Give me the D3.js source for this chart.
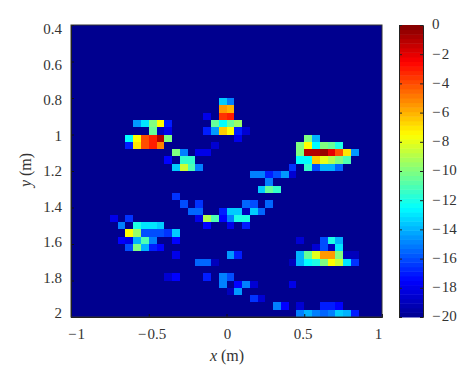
<!DOCTYPE html>
<html>
<head>
<meta charset="utf-8">
<script src="https://cdn.jsdelivr.net/npm/d3@7"></script>
<style>
  html, body { margin: 0; padding: 0; background: #fff; }
  svg { display: block; }
  text { font-family: "Liberation Serif", serif; fill: #333; }
</style>
</head>
<body>
<div id="chart"></div>
<script>
// grid size and ticks as printed
const nCols = 40;
const nRows = 40;
const floorValue = -20;
const xTicks = [-1, -0.5, 0, 0.5, 1];
const yTicks = [0.4, 0.6, 0.8, 1, 1.2, 1.4, 1.6, 1.8, 2];
const colorTicks = [0, -2, -4, -6, -8, -10, -12, -14, -16, -18, -20];

// non-floor cells: [col, row, dB]
const upperLeftBlob = [
  [17,12,-18],
  [8,13,-14.5],[9,13,-13],[10,13,-10],[11,13,-7.5],[12,13,-17],
  [10,14,-10.5],[11,14,-19],[12,14,-18],
  [7,15,-12.5],[8,15,-7.5],[9,15,-4],[10,15,-3],[11,15,-1],[12,15,-10],
  [7,16,-17],[8,16,-7],[9,16,-4],[10,16,-3],[11,16,-5],
  [13,17,-10],[14,17,-15],[16,17,-18],[17,17,-18],
  [12,18,-17.5],[14,18,-11.5],[15,18,-11.5],
  [13,19,-13.5],[14,19,-8.5],[15,19,-11],[16,19,-15]
];
const upperMiddleBlob = [
  [19,10,-13.5],[20,10,-15],
  [19,11,-5.5],[20,11,-6],
  [19,12,-3.5],[20,12,-3],
  [18,13,-10.5],[19,13,-12.5],[20,13,-10.5],[21,13,-9.5],
  [17,14,-17],[18,14,-14.5],[19,14,-6.5],[20,14,-7.5],[21,14,-17],[22,14,-18.5],
  [21,15,-18],[18,16,-18.5]
];
const upperRightBlob = [
  [30,15,-10],[31,15,-14],
  [29,16,-10],[30,16,-7.5],[31,16,-12.5],[32,16,-10],[33,16,-10.5],[34,16,-12],
  [29,17,-10],[30,17,-1],[31,17,-1],[32,17,-0.5],[33,17,-2],[34,17,-4],[35,17,-7],[36,17,-14.5],
  [29,18,-12.5],[30,18,-12.5],[31,18,-6.5],[32,18,-8],[33,18,-9],[34,18,-10],[35,18,-11],
  [28,19,-16.5],[30,19,-11.5],[31,19,-16],[32,19,-14],[33,19,-14],[34,19,-15.5]
];
const centerTrail = [
  [23,20,-15],[24,20,-15],[25,20,-17],[26,20,-16],[27,20,-14.5],[28,20,-18.5],
  [25,21,-15],
  [24,22,-13.5],[25,22,-10.5],[26,22,-11.5],
  [13,23,-16.5],
  [14,24,-16],[16,24,-16.5],[22,24,-15.5],[23,24,-16],[25,24,-15.5],
  [15,25,-15.5],[16,25,-15.5],[19,25,-17],[20,25,-13.5],[21,25,-13.5],[22,25,-19],[23,25,-13.5],[24,25,-15.5],
  [16,26,-18],[17,26,-9],[18,26,-11],[19,26,-17.5],[20,26,-15],[21,26,-12],[22,26,-12],
  [17,27,-17.5],[20,27,-18],[22,27,-17]
];
const lowerLeftBlob = [
  [5,26,-18],[7,26,-16.5],
  [6,27,-15],[8,27,-12],[9,27,-13],[10,27,-13],[11,27,-13.5],
  [7,28,-7.5],[8,28,-9.5],[9,28,-16],[10,28,-16],[11,28,-16],[12,28,-16.5],[13,28,-13.5],
  [6,29,-17.5],[7,29,-18],[8,29,-14],[9,29,-11],[10,29,-15],[13,29,-17.5],
  [7,30,-16],[8,30,-10],[9,30,-14],[10,30,-17],[11,30,-17.5],
  [13,31,-18]
];
const lowerRightBlob = [
  [29,29,-18.5],[32,29,-16],[33,29,-12],[34,29,-14],
  [31,30,-18.5],[32,30,-16],[33,30,-19],[34,30,-13],
  [20,31,-14.5],[21,31,-17],[29,31,-14],[30,31,-10.5],[31,31,-8],[32,31,-5.5],[33,31,-5.5],[34,31,-10],[35,31,-19],[36,31,-19],
  [28,32,-19],[29,32,-14],[30,32,-12.5],[31,32,-12],[32,32,-10],[33,32,-7.5],[34,32,-8.5],[35,32,-13],[36,32,-16.5]
];
const bottomScatter = [
  [16,32,-15.5],[17,32,-15.5],[18,32,-19],
  [12,34,-18.5],[13,34,-17.5],[17,34,-17],[19,34,-15],[20,34,-16],
  [19,35,-15],[21,35,-17.5],[22,35,-15],[23,35,-18.5],[28,35,-18],
  [20,36,-19],[21,36,-14.5],
  [23,37,-16.5],[24,37,-18.5],
  [26,38,-15],[27,38,-17.5],[29,38,-18.5],[32,38,-17],[33,38,-17],[34,38,-17.5],
  [29,39,-15],[30,39,-14],[31,39,-15],[32,39,-15.5],[33,39,-15],[34,39,-13.5],[35,39,-14],[36,39,-17]
];

const width = 474;
const height = 382;
const plot = { left: 71, right: 382, top: 25, bottom: 317 };
const bar = { left: 399, right: 423 };

// MATLAB jet, 0 dB dark red down to -20 dB dark blue
const jet = d3.scaleLinear()
  .domain([-20, -17.5, -12.5, -7.5, -2.5, 0])
  .range(['#00008f', '#0000ff', '#00ffff', '#ffff00', '#ff0000', '#800000'])
  .clamp(true);

const minusSign = s => String(s).replace('-', '\u2212\u200a');

const svg = d3.select('#chart').append('svg')
  .attr('width', width)
  .attr('height', height);

// the reference is a soft jpeg, cells bleed a little
const defs = svg.append('defs');
defs.append('filter').attr('id', 'soften')
  .attr('x', 0).attr('y', 0).attr('width', 1).attr('height', 1)
  .append('feGaussianBlur').attr('stdDeviation', 0.45);

// Heatmap
const colScale = d3.scaleBand().domain(d3.range(nCols)).range([plot.left, plot.right]);
const rowScale = d3.scaleBand().domain(d3.range(nRows)).range([plot.top, plot.bottom]);

const grid = new Map();
[upperLeftBlob, upperMiddleBlob, upperRightBlob, centerTrail, lowerLeftBlob, lowerRightBlob, bottomScatter]
  .forEach(blob => blob.forEach(([c, r, v]) => grid.set(`${c},${r}`, v)));

const cells = d3.cross(d3.range(nCols), d3.range(nRows))
  .map(([c, r]) => ({ c, r, v: grid.has(`${c},${r}`) ? grid.get(`${c},${r}`) : floorValue }));

svg.append('g')
  .attr('filter', 'url(#soften)')
  .selectAll('rect')
  .data(cells)
  .enter().append('rect')
  .attr('x', d => colScale(d.c))
  .attr('y', d => rowScale(d.r))
  .attr('width', colScale.bandwidth())
  .attr('height', rowScale.bandwidth())
  .attr('shape-rendering', 'crispEdges')
  .attr('fill', d => jet(d.v));

// Axes: tick marks sit inside the frame, printed labels are squeezed slightly
const x = d3.scaleLinear().domain([-1, 1]).range([plot.left, plot.right]);
const y = d3.scaleLinear().domain([0.4, 2]).range([plot.top, plot.bottom]);
const xLabelPos = d3.scaleLinear().domain([-1, 1]).range([76, 378]);
const yLabelPos = d3.scaleLinear().domain([0.4, 2]).range([29, 313]);

svg.append('g')
  .attr('transform', `translate(0,${plot.bottom})`)
  .call(d3.axisBottom(x).tickValues(xTicks).tickSize(-3).tickFormat(''))
  .call(g => g.selectAll('line,path').attr('stroke', '#111'));

svg.append('g')
  .attr('transform', `translate(${plot.left},0)`)
  .call(d3.axisLeft(y).tickValues(yTicks).tickSize(-3).tickFormat(''))
  .call(g => g.selectAll('line,path').attr('stroke', '#111'));

svg.append('rect')
  .attr('x', plot.left).attr('y', plot.top)
  .attr('width', plot.right - plot.left).attr('height', plot.bottom - plot.top)
  .attr('fill', 'none').attr('stroke', '#333');

svg.append('g')
  .attr('transform', 'translate(0,328)')
  .call(d3.axisBottom(xLabelPos).tickValues(xTicks).tickSize(0).tickPadding(0).tickFormat(minusSign))
  .call(g => g.select('.domain').remove())
  .call(g => g.selectAll('text').style('font-size', '15px').attr('fill', '#333').attr('dy', '0.71em'));

svg.append('g')
  .attr('transform', 'translate(62,0)')
  .call(d3.axisLeft(yLabelPos).tickValues(yTicks).tickSize(0).tickPadding(0).tickFormat(d => d))
  .call(g => g.select('.domain').remove())
  .call(g => g.selectAll('text').style('font-size', '15px').attr('fill', '#333'));

// Axis titles
const xTitle = svg.append('text')
  .attr('x', 227).attr('y', 361)
  .attr('text-anchor', 'middle')
  .style('font-size', '16px');
xTitle.append('tspan').style('font-style', 'italic').text('x');
xTitle.append('tspan').text(' (m)');

const yTitle = svg.append('text')
  .attr('transform', 'translate(31,170) rotate(-90)')
  .attr('text-anchor', 'middle')
  .style('font-size', '16px');
yTitle.append('tspan').style('font-style', 'italic').text('y');
yTitle.append('tspan').text(' (m)');

// Colorbar
const barY = d3.scaleLinear().domain([0, -20]).range([plot.top, plot.bottom]);
const barLevels = d3.range(64).map(i => -20 + (i + 0.5) * 20 / 64);

svg.append('g').selectAll('rect')
  .data(barLevels)
  .enter().append('rect')
  .attr('x', bar.left)
  .attr('y', d => barY(d + 10 / 64))
  .attr('width', bar.right - bar.left)
  .attr('height', (barY(-20) - barY(0)) / 64 + 0.5)
  .attr('fill', d => jet(d));

svg.append('g')
  .attr('transform', `translate(${bar.right},0)`)
  .call(d3.axisRight(barY).tickValues(colorTicks).tickSize(-3).tickPadding(0).tickFormat(''))
  .call(g => g.selectAll('line,path').attr('stroke', '#222'));

svg.append('g')
  .attr('transform', `translate(${bar.left},0)`)
  .call(d3.axisLeft(barY).tickValues(colorTicks).tickSize(-3).tickFormat(''))
  .call(g => g.selectAll('line,path').attr('stroke', '#222'));

// printed labels run a touch tighter than the ticks
const barLabelPos = d3.scaleLinear().domain([0, -20]).range([24, 316]);
svg.append('g')
  .attr('transform', 'translate(432,0)')
  .call(d3.axisRight(barLabelPos).tickValues(colorTicks).tickSize(0).tickPadding(0).tickFormat(minusSign))
  .call(g => g.select('.domain').remove())
  .call(g => g.selectAll('text').style('font-size', '15px').attr('fill', '#333'));
</script>
</body>
</html>
